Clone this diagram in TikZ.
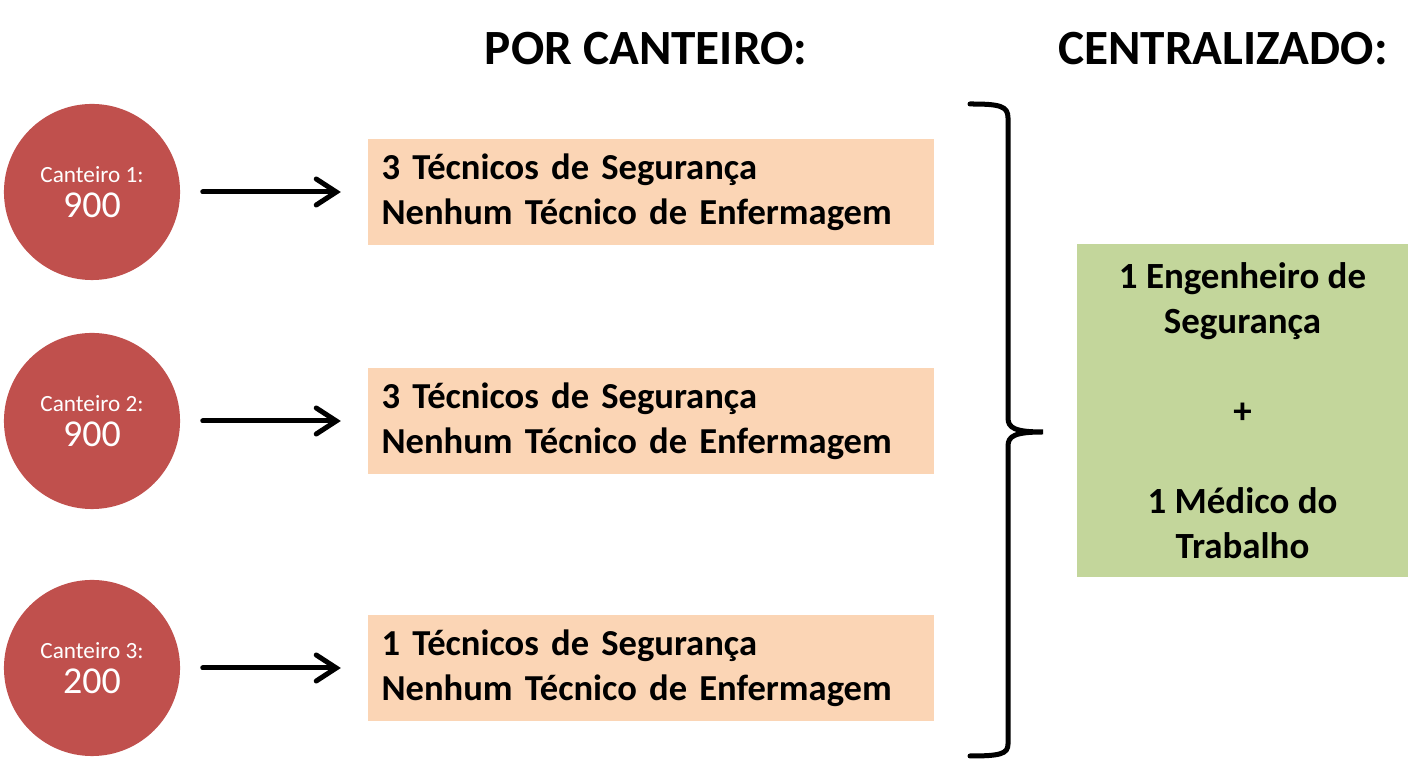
\documentclass[tikz,border=0pt]{standalone}
\usepackage{fontspec}
\setmainfont{Carlito}
\usepackage{tikz}
\usetikzlibrary{arrows.meta,positioning}
\definecolor{vermelho}{HTML}{C0504D}
\definecolor{laranja}{HTML}{FBD5B5}
\definecolor{verde}{HTML}{C3D69B}

\begin{document}
\begin{tikzpicture}[x=0.01cm,y=-0.01cm,
  canteiro/.style={circle,fill=vermelho,minimum size=1.76cm,inner sep=0pt,text=white,align=center},
  caixa/.style={rectangle,fill=laranja,minimum width=5.66cm,minimum height=1.05cm,text width=5.38cm,inner xsep=0.14cm,inner ysep=0.05cm,align=left,font=\fontsize{10.4}{12.8}\selectfont\bfseries},
  seta/.style={-{Straight Barb[length=0.2cm,width=0.26cm,line cap=round]},line width=0.05cm,line cap=round},
  titulo/.style={anchor=base,font=\fontsize{14}{16}\selectfont\bfseries}]
\useasboundingbox (0,0) rectangle (1421,762);
\node[titulo] (tcanteiro) at (646,65) {POR CANTEIRO:};
\node[titulo] (tcentral) at (1223,65) {CENTRALIZADO:};
% canteiros
\node[canteiro] (c1) at (92,192) {{\fontsize{6.6}{8}\selectfont Canteiro 1:}\\[-2pt]{\fontsize{10.8}{10.5}\selectfont 900}};
\node[canteiro] (c2) at (92,421) {{\fontsize{6.6}{8}\selectfont Canteiro 2:}\\[-2pt]{\fontsize{10.8}{10.5}\selectfont 900}};
\node[canteiro] (c3) at (92,668) {{\fontsize{6.6}{8}\selectfont Canteiro 3:}\\[-2pt]{\fontsize{10.8}{10.5}\selectfont 200}};
\node[caixa, right=1.86cm of c1] (b1) {3 Técnicos de Segurança\\Nenhum Técnico de Enfermagem};
\node[caixa, right=1.86cm of c2] (b2) {3 Técnicos de Segurança\\Nenhum Técnico de Enfermagem};
\node[caixa, right=1.86cm of c3] (b3) {1 Técnicos de Segurança\\Nenhum Técnico de Enfermagem};
\draw[seta] ([xshift=0.22cm]c1.east) -- ([xshift=-0.26cm]b1.west);
\draw[seta] ([xshift=0.22cm]c2.east) -- ([xshift=-0.26cm]b2.west);
\draw[seta] ([xshift=0.22cm]c3.east) -- ([xshift=-0.26cm]b3.west);
% chave
\draw[line width=0.05cm,line cap=round] (970,104) .. controls (1000,104) and (1008,106) .. (1008,118) -- (1008,418)
  .. controls (1008,428) and (1015,432) .. (1043,432) .. controls (1015,432) and (1008,436) .. (1008,446)
  -- (1008,744) .. controls (1008,754) and (1000,756) .. (970,756);
\node[fill=verde,minimum width=3.31cm,minimum height=3.33cm,align=center,font=\fontsize{10.5}{12.8}\selectfont\bfseries] (central) at (1242.5,410.5)
  {1 Engenheiro de\\Segurança\\[12.8pt]+\\[12.8pt]1 Médico do\\Trabalho};
\end{tikzpicture}
\end{document}
